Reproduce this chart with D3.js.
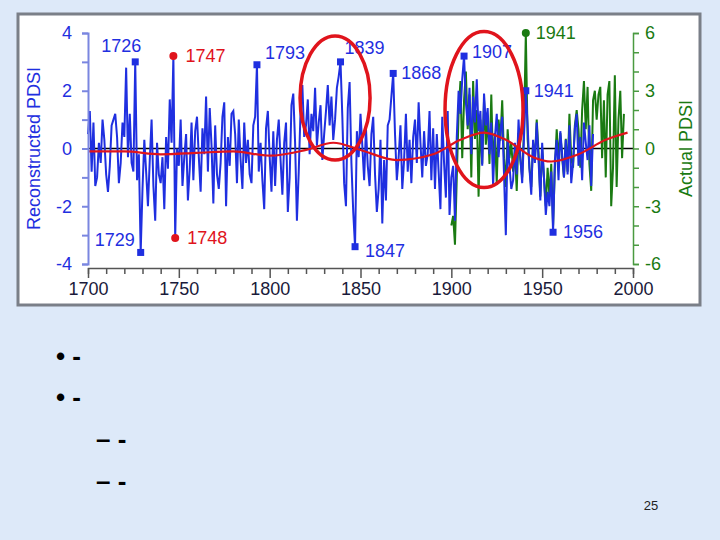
<!DOCTYPE html><html><head><meta charset="utf-8"><script src="https://d3js.org/d3.v7.min.js"></script>
<style>body{margin:0;background:#dce9f8;}svg{display:block}</style></head><body><svg id="c" width="720" height="540"></svg>
<script>
const reconStart = 1700;
const reconValues = [
0.5,1.3,-0.8,0.9,-1.3,-1.0,0.2,-0.5,1.0,0.3,
-0.9,-1.5,-0.6,0.8,1.0,1.2,0.4,-1.2,-0.5,0.9,
0.4,2.8,-0.3,1.2,-0.5,-0.8,3.0,-1.1,-0.2,-3.6,
-1.4,0.3,-0.8,-2.0,-0.4,1.0,-1.3,-2.5,0.2,-0.9,
-1.2,-0.3,-2.1,0.4,-0.7,1.7,0.2,3.2,-3.1,0.0,
-0.6,1.0,-1.3,-0.3,0.5,-1.8,-0.7,0.9,-1.1,0.6,
1.1,-0.3,-1.5,0.7,-0.2,1.8,-0.8,1.4,0.1,-1.9,
0.8,-0.9,-1.4,-0.5,1.1,1.6,-2.0,0.4,-0.6,1.2,
1.3,0.5,-1.2,1.0,-0.4,-1.4,0.9,-0.5,0.3,-0.9,
-1.2,0.8,1.1,2.9,-0.8,0.2,-1.1,-2.1,0.7,1.3,
-0.3,-1.5,0.6,-1.3,0.3,1.0,-0.4,-1.6,0.2,0.9,
-2.2,-1.0,1.5,1.9,0.2,-2.5,-0.8,1.3,2.2,0.4,
0.8,1.7,-0.2,1.2,0.6,2.1,0.1,0.9,1.5,-0.4,
0.5,1.3,2.2,0.8,1.8,0.3,1.0,2.1,2.5,3.0,
1.1,-1.2,-2.0,1.4,2.3,-0.5,-2.2,-3.4,0.6,-0.3,
1.2,0.1,-1.1,0.7,-0.6,-1.3,0.5,1.1,-0.9,-2.2,
-1.4,0.3,-2.6,-0.4,-1.8,0.8,1.0,1.8,2.6,0.5,
-1.1,-0.3,0.8,-1.4,-0.4,1.2,-0.8,0.3,-1.2,0.4,
1.0,-0.5,1.6,0.2,-1.0,0.6,-0.6,-0.2,1.3,-1.1,
0.7,-1.4,0.5,-0.8,-2.1,1.1,-0.5,-1.7,1.3,-2.3,
-1.0,-0.6,-2.5,0.4,2.0,1.2,2.4,3.2,1.6,0.8,
2.1,-0.2,1.8,0.9,2.4,0.6,1.3,-0.6,1.9,0.8,
1.4,-0.2,0.9,-1.3,0.4,1.2,-0.3,0.6,1.1,-0.9,
-3.0,0.3,-0.6,-1.4,-1.1,0.2,-0.9,1.0,-0.3,-1.2,
0.4,2.0,0.8,-0.7,-1.6,0.3,-0.5,0.9,-0.4,-1.8,
0.2,-1.0,-2.3,-1.5,-2.0,-0.8,-2.9,-0.4,0.3,-1.1,
0.6,-0.2,-1.0,0.3,-0.9,0.8,-1.2,-0.5,0.7,1.2,
-0.6,0.4,-1.1,0.9,0.2,-0.4,0.8,-1.3,0.5];
const actualStart = 1900;
const actualValues = [
-4.0,-3.5,-5.0,-1.5,1.8,3.5,-0.5,2.5,4.0,1.0,
2.8,-1.5,3.5,0.5,2.0,-2.5,1.5,-0.8,2.5,0.2,
1.6,-0.8,2.8,-1.0,0.8,-1.8,1.5,0.4,2.5,-0.5,
-2.0,1.0,-0.5,0.3,-1.2,-0.2,-2.2,0.8,-0.6,-1.5,
1.0,6.0,0.5,-1.0,-2.0,0.3,-0.6,1.5,-0.2,-2.5,
0.0,-1.5,-3.0,-1.0,-2.5,-0.8,-4.0,-1.0,1.0,-0.5,
0.8,-0.5,-1.5,0.5,-1.2,1.8,-0.5,-1.0,1.2,2.0,
1.0,-1.0,2.0,3.5,1.0,3.2,-0.8,-2.2,2.5,3.0,
1.5,2.8,3.2,-0.5,2.5,-1.5,2.8,3.5,-3.0,-1.0,
3.8,-2.0,1.5,3.0,-0.5,1.8];
const smoothYears = [1700,1720,1740,1760,1780,1800,1820,1835,1850,1870,1890,1905,1918,1930,1945,1955,1970,1985,1997];
const smoothValues = [-0.1,-0.1,-0.2,-0.15,-0.1,-0.25,-0.05,0.2,-0.05,-0.4,-0.2,0.3,0.55,0.3,-0.3,-0.45,-0.2,0.3,0.55];
const blueMarks = [[1726,"1726"],[1729,"1729"],[1793,"1793"],[1839,"1839"],[1847,"1847"],[1868,"1868"],[1907,"1907"],[1941,"1941"],[1956,"1956"]];
const redMarks = [[1747,"1747"],[1748,"1748"]];
const leftTicks = [-4,-2,0,2,4];
const rightTicks = [-6,-3,0,3,6];
const xTicks = [1700,1750,1800,1850,1900,1950,2000];

const svg = d3.select("#c");
svg.append("rect").attr("width",720).attr("height",540).attr("fill","#dde9f9");
svg.append("rect").attr("x",18).attr("y",14).attr("width",682).attr("height",291).attr("fill","#fff").attr("stroke","#7a7f88").attr("stroke-width",3);

const x = d3.scaleLinear().domain([1700,2000]).range([88,633]);
const yL = d3.scaleLinear().domain([-4,4]).range([264,33]);
const yR = d3.scaleLinear().domain([-6,6]).range([264,33]);
const blue="#1f2fe0", green="#1a7a12", red="#e0141c";
const font="Arial, 'Liberation Sans', sans-serif";

svg.append("line").attr("x1",x(1700)).attr("x2",x(2000)).attr("y1",yL(0)).attr("y2",yL(0)).attr("stroke","#000").attr("stroke-width",1.5);

const recon = reconValues.map((v,i)=>[reconStart+i,v]);
const actual = actualValues.map((v,i)=>[actualStart+i,v]);
svg.append("path").attr("d",d3.line().x(d=>x(d[0])).y(d=>yR(d[1]))(actual)).attr("fill","none").attr("stroke",green).attr("stroke-width",2);
svg.append("path").attr("d",d3.line().x(d=>x(d[0])).y(d=>yL(d[1]))(recon)).attr("fill","none").attr("stroke",blue).attr("stroke-width",2);
svg.append("path").attr("d",d3.line().curve(d3.curveMonotoneX).x(d=>x(d)).y((d,i)=>yL(smoothValues[i]))(smoothYears)).attr("fill","none").attr("stroke",red).attr("stroke-width",2.2);

const gL = svg.append("g").attr("transform",`translate(${x(1700)},0)`).call(d3.axisLeft(yL).tickValues(d3.range(-4,4.01,1)).tickSize(6).tickFormat(d=>leftTicks.includes(d)?d:""));
gL.selectAll("path,line").attr("stroke","#7a86e0").attr("stroke-width",2);
gL.selectAll("text").attr("fill",blue).attr("font-size",18).attr("font-family",font).attr("x",-16);
const gR = svg.append("g").attr("transform",`translate(${x(2000)},0)`).call(d3.axisRight(yR).tickValues(d3.range(-6,6.01,1)).tickSize(6).tickFormat(d=>rightTicks.includes(d)?d:""));
gR.selectAll("path,line").attr("stroke","#4a9a40").attr("stroke-width",1.5);
gR.selectAll("text").attr("fill",green).attr("font-size",18).attr("font-family",font).attr("x",12);
const gB = svg.append("g").attr("transform",`translate(0,${yL(-4)+4})`).call(d3.axisBottom(x).tickValues(d3.range(1700,2001,10)).tickSize(6).tickFormat(d=>xTicks.includes(d)?d:""));
gB.selectAll("path,line").attr("stroke","#555").attr("stroke-width",1.5);
gB.selectAll(".tick").filter(d=>xTicks.includes(d)).select("line").attr("y2",10);
gB.selectAll("text").attr("fill","#1a1a3a").attr("font-size",18).attr("font-family",font).attr("y",14);

svg.append("text").attr("transform",`translate(40,${yL(0)}) rotate(-90)`).attr("text-anchor","middle").attr("fill",blue).attr("font-size",18).attr("font-family",font).text("Reconstructed PDSI");
svg.append("text").attr("transform",`translate(692,${yL(0)}) rotate(-90)`).attr("text-anchor","middle").attr("fill",green).attr("font-size",18).attr("font-family",font).text("Actual PDSI");

const labelPos = {"1726":[6,-10,"end"],"1729":[-6,-6,"end"],"1793":[8,-6,"start"],"1839":[4,-8,"start"],"1847":[10,10,"start"],"1868":[8,6,"start"],"1907":[8,2,"start"],"1941":[8,6,"start"],"1956":[10,6,"start"]};
blueMarks.forEach(([yr,lab])=>{
  const v = reconValues[yr-reconStart], cx=x(yr), cy=yL(v);
  svg.append("rect").attr("x",cx-3.5).attr("y",cy-3.5).attr("width",7).attr("height",7).attr("fill",blue);
  const [dx,dy,anchor]=labelPos[lab];
  svg.append("text").attr("x",cx+dx).attr("y",cy+dy).attr("text-anchor",anchor).attr("fill",blue).attr("font-size",18).attr("font-family",font).text(lab);
});
redMarks.forEach(([yr,lab])=>{
  const v = reconValues[yr-reconStart], cx=x(yr), cy=yL(v);
  svg.append("circle").attr("cx",cx).attr("cy",cy).attr("r",4).attr("fill",red);
  svg.append("text").attr("x",cx+12).attr("y",cy+6).attr("fill",red).attr("font-size",18).attr("font-family",font).text(lab);
});
{
  const yr=1941, v=actualValues[yr-actualStart], cx=x(yr), cy=yR(v);
  svg.append("circle").attr("cx",cx).attr("cy",cy).attr("r",4).attr("fill",green);
  svg.append("text").attr("x",cx+10).attr("y",cy+6).attr("fill",green).attr("font-size",18).attr("font-family",font).text("1941");
}
[[1836,1.75,35,62],[1918,1.35,39,78]].forEach(([yr,v,rx,ry])=>{
  svg.append("ellipse").attr("cx",x(yr)).attr("cy",yL(v)).attr("rx",rx).attr("ry",ry).attr("fill","none").attr("stroke",red).attr("stroke-width",3.5);
});

const bullets=[[56,357,"•","-"],[56,398,"•","-"],[96,440,"–","-"],[96,482,"–","-"]];
bullets.forEach(([bx,by,b,t])=>{
  svg.append("text").attr("x",bx).attr("y",by+8).attr("font-size",26).attr("font-weight","bold").attr("font-family",font).attr("fill","#000").text(b+" "+t);
});
svg.append("text").attr("x",651).attr("y",510).attr("text-anchor","middle").attr("font-size",13).attr("font-family",font).attr("fill","#222").text("25");
</script></body></html>
